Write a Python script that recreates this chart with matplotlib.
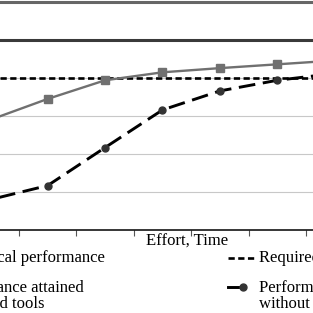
import numpy as np
import matplotlib
matplotlib.use('Agg')
from matplotlib import pyplot as plt
from matplotlib.lines import Line2D

# data (category index -> value on a 0..6 scale)
steps = [0, 1, 2, 3, 4, 5, 6]
theoretical = [2.9, 3.45, 3.94, 4.15, 4.26, 4.36, 4.46]
with_tools = [0.8, 1.17, 2.17, 3.16, 3.66, 3.94, 4.12]
required = 4.0
grid_levels = [1, 2, 3, 4]

xlabel = 'Effort, Time'
legend_labels = ['Theoretical performance', 'Required performance',
                 'Performance attained\nwith hand tools',
                 'Performance attained\nwithout tools']

plt.rcParams['font.family'] = ['Liberation Serif', 'DejaVu Serif']
plt.rcParams['lines.scale_dashes'] = False

W = H = 313
fig = plt.figure(figsize=(W / 100, H / 100), dpi=100)
ax = fig.add_axes([0, (H - 230) / H, 1, 228 / H])

ax.set_xlim(0.169, 5.622)
ax.set_ylim(0, 6)

for g in grid_levels:
    ax.axhline(g, color='#c8c8c8', lw=0.8, zorder=1)
ax.axhline(5, color='#3a3a3a', lw=2.2, zorder=1)
ax.axhline(required, color='black', lw=1.9, dashes=(4.5, 2.5), zorder=2)

ax.plot(steps, theoretical, color='#707070', lw=1.7, marker='s', ms=5.5,
        markerfacecolor='#707070', markeredgecolor='#707070', zorder=3)
ax.plot(steps, with_tools, color='black', lw=2.1, dashes=(12, 5.5), marker='o', ms=5,
        markerfacecolor='#333333', markeredgecolor='#333333', zorder=4)

for s in ['left', 'right']:
    ax.spines[s].set_visible(False)
ax.spines['top'].set_color('#666666')
ax.spines['top'].set_linewidth(2.2)
ax.spines['bottom'].set_color('black')
ax.spines['bottom'].set_linewidth(1.1)

ax.set_xticks(np.arange(0.5, 6, 1))
ax.set_xticklabels([])
ax.set_yticks([])
ax.tick_params(axis='x', direction='out', length=4, width=0.8, color='#555555')

fs = 12
fig.text(187 / W, 1 - 246 / H, xlabel, ha='center', va='baseline', fontsize=fs)

# legend drawn by hand (the original is cropped on both sides)
def ly(p):
    return 1 - p / H

fig.add_artist(Line2D([-99 / W, -69 / W], [ly(258)] * 2, color='#707070', lw=1.7,
                      marker='s', ms=5.5, markevery=[1], transform=fig.transFigure))
fig.text(-59 / W, ly(262), legend_labels[0], ha='left', va='baseline', fontsize=fs)
fig.add_artist(Line2D([228 / W, 255 / W], [ly(258)] * 2, color='black', lw=1.9,
                      dashes=(4.5, 2.5), transform=fig.transFigure))
fig.text(259 / W, ly(262), legend_labels[1], ha='left', va='baseline', fontsize=fs)
fig.add_artist(Line2D([-99 / W, -82 / W], [ly(287)] * 2, color='black', lw=2.1,
                      marker='o', ms=5, markevery=[1], transform=fig.transFigure))
line1, line2 = legend_labels[2].split('\n')
fig.text(-58 / W, ly(292), line1, ha='left', va='baseline', fontsize=fs)
fig.text(-58 / W, ly(308), line2, ha='left', va='baseline', fontsize=fs)
fig.add_artist(Line2D([228 / W, 243 / W], [ly(287)] * 2, color='black', lw=2.1,
                      marker='o', ms=5, markevery=[1], markerfacecolor='#333333',
                      markeredgecolor='#333333', transform=fig.transFigure))
line1, line2 = legend_labels[3].split('\n')
fig.text(259 / W, ly(292), line1, ha='left', va='baseline', fontsize=fs)
fig.text(259 / W, ly(308), line2, ha='left', va='baseline', fontsize=fs)

fig.savefig('out.png', dpi=100)
